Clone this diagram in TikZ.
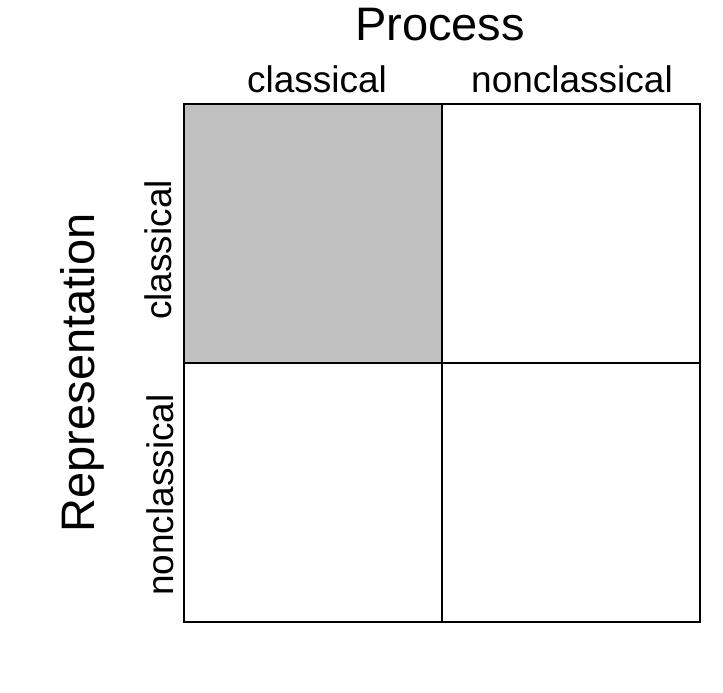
\documentclass[tikz,border=0pt]{standalone}
\usepackage{fontspec}
\setmainfont{Liberation Sans}
\begin{document}
\begin{tikzpicture}[x=1pt,y=1pt,
  cell/.style={draw=black,line width=1.8pt},
  big/.style={font=\fontsize{47}{52}\selectfont},
  lab/.style={font=\fontsize{37}{42}\selectfont}]
\useasboundingbox (0,0) rectangle (723,693);
\fill[fill={rgb,255:red,192;green,192;blue,192}] (184,330) rectangle (442,589);
\draw[cell] (184,71) rectangle (700,589);
\draw[cell] (442,71) -- (442,589);
\draw[cell] (184,330) -- (700,330);
\node[big] (p) at (440,668) {Process};
\node[lab] (pc) at (317,614) {classical};
\node[lab] (pn) at (572,614) {nonclassical};
\node[big,rotate=90] (r) at (82,320) {Representation};
\node[lab,rotate=90] (rc) at (158,443) {classical};
\node[lab,rotate=90] (rn) at (160,198) {nonclassical};
\end{tikzpicture}
\end{document}
